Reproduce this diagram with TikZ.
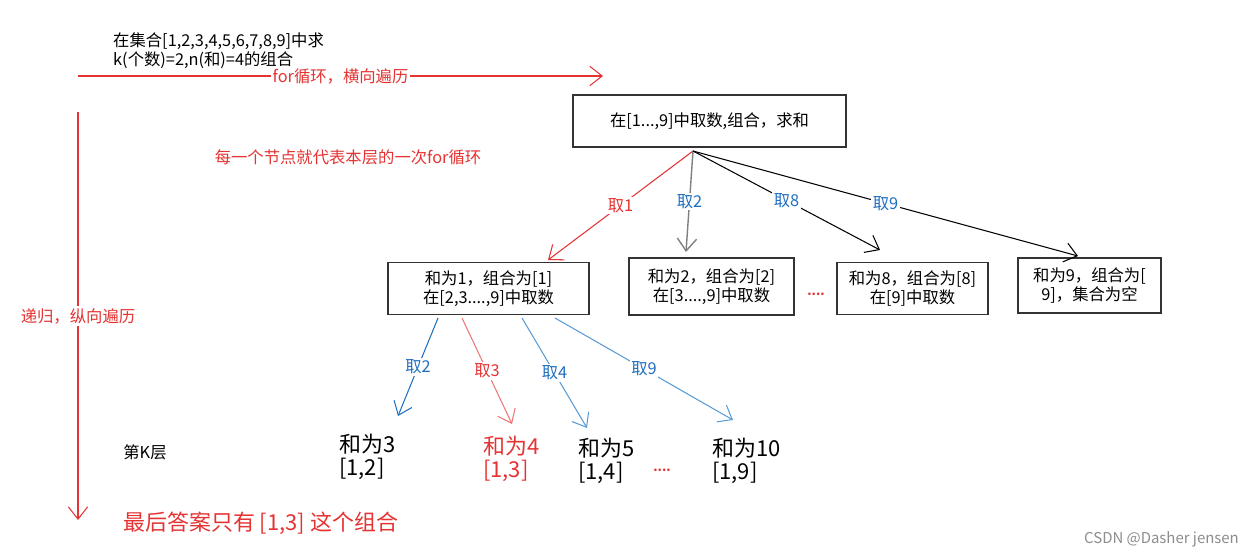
\documentclass[tikz,border=0pt]{standalone}
\usepackage{fontspec}
\setmainfont{Noto Sans CJK SC}
\usetikzlibrary{arrows.meta}
\definecolor{myred}{HTML}{E53333}
\definecolor{myblue}{HTML}{1F6FC0}
\definecolor{lblue}{HTML}{5B9BD5}
\definecolor{lred}{HTML}{EE7777}
\begin{document}
\begin{tikzpicture}[x=0.02cm,y=-0.02cm,
  box/.style={draw=black!80,thick,minimum width=#1,minimum height=52*0.02cm,align=center,font=\fontsize{9.3}{10.5}\selectfont,inner sep=1pt},
  arr/.style={-{Straight Barb[length=7pt,width=11pt]},semithick},
  lab/.style={fill=white,inner sep=1pt,font=\fontsize{9.3}{10.5}\selectfont},
  big/.style={align=left,anchor=west,font=\fontsize{12.5}{13.5}\selectfont},
  dots/.style={text=myred,font=\fontsize{7}{8}\bfseries\selectfont,inner sep=0pt}]
\useasboundingbox (0,0) rectangle (1256,558);
\node[anchor=west,align=left,font=\fontsize{9.3}{9.5}\selectfont] (t) at (107,51) {在集合[1,2,3,4,5,6,7,8,9]中求\\k(个数)=2,n(和)=4的组合};
\coordinate (h1) at (78,76); \coordinate (h2) at (603,76);
\draw[myred,arr] (h1) -- node[lab,text=myred,pos=0.5] {for循环，横向遍历} (h2);
\coordinate (v1) at (78,112); \coordinate (v2) at (78,520);
\draw[myred,arr] (v1) -- node[lab,text=myred,pos=0.5] {递归，纵向遍历} (v2);
\node[text=myred,font=\fontsize{9.3}{10.5}\selectfont] (note) at (348,157) {每一个节点就代表本层的一次for循环};
\node[box=273*0.02cm] (root) at (709.5,121) {在[1...,9]中取数,组合，求和};
\node[box=201*0.02cm] (A) at (488.5,288.5) {和为1，组合为[1]\\{}在[2,3....,9]中取数};
\node[box=165*0.02cm,minimum height=57*0.02cm] (B) at (711.5,286.5) {和为2，组合为[2]\\{}在[3....,9]中取数};
\node[box=151*0.02cm] (C) at (912.5,288.5) {和为8，组合为[8]\\{}在[9]中取数};
\node[box=143*0.02cm,minimum height=55*0.02cm] (D) at (1089.5,285.5) {和为9，组合为[\\{}9]，集合为空};
\node[dots] (d1) at (816,294) {....};
\coordinate (r) at (693,151);
\draw[myred,arr] (r) -- node[lab,text=myred,pos=0.5] {取1} (548,260);
\draw[gray,arr,thick] (r) -- node[lab,text=myblue,pos=0.5] {取2} (686,252);
\draw[black,arr] (r) -- node[lab,text=myblue,pos=0.5] {取8} (880,250);
\draw[black,arr] (r) -- node[lab,text=myblue,pos=0.5] {取9} (1078,256);
\node[font=\fontsize{9.3}{10.5}\selectfont] (k) at (145,452) {第K层};
\node[big] (n3) at (333,457) {和为3\\{}[1,2]};
\node[big,text=myred] (n4) at (477,459) {和为4\\{}[1,3]};
\node[big] (n5) at (572,461) {和为5\\{}[1,4]};
\node[big] (n10) at (706,461) {和为10\\{}[1,9]};
\node[dots] (d2) at (662,470) {....};
\draw[myblue,arr] (438,318) -- node[lab,text=myblue,pos=0.5] {取2} (398,416);
\draw[lred,arr] (462,318) -- node[lab,text=myred,pos=0.5] {取3} (512,424);
\draw[lblue,arr] (522,318) -- node[lab,text=myblue,pos=0.5] {取4} (587,428);
\draw[lblue,arr] (555,318) -- node[lab,text=myblue,pos=0.5] {取9} (733,420);
\node[anchor=west,text=myred,font=\fontsize{12.5}{13.5}\selectfont] (ans) at (117,523) {最后答案只有 [1,3] 这个组合};
\node[anchor=east,text=black!45,font=\fontsize{8.5}{9}\selectfont] (wm) at (1245,539) {CSDN @Dasher jensen};
\end{tikzpicture}
\end{document}
